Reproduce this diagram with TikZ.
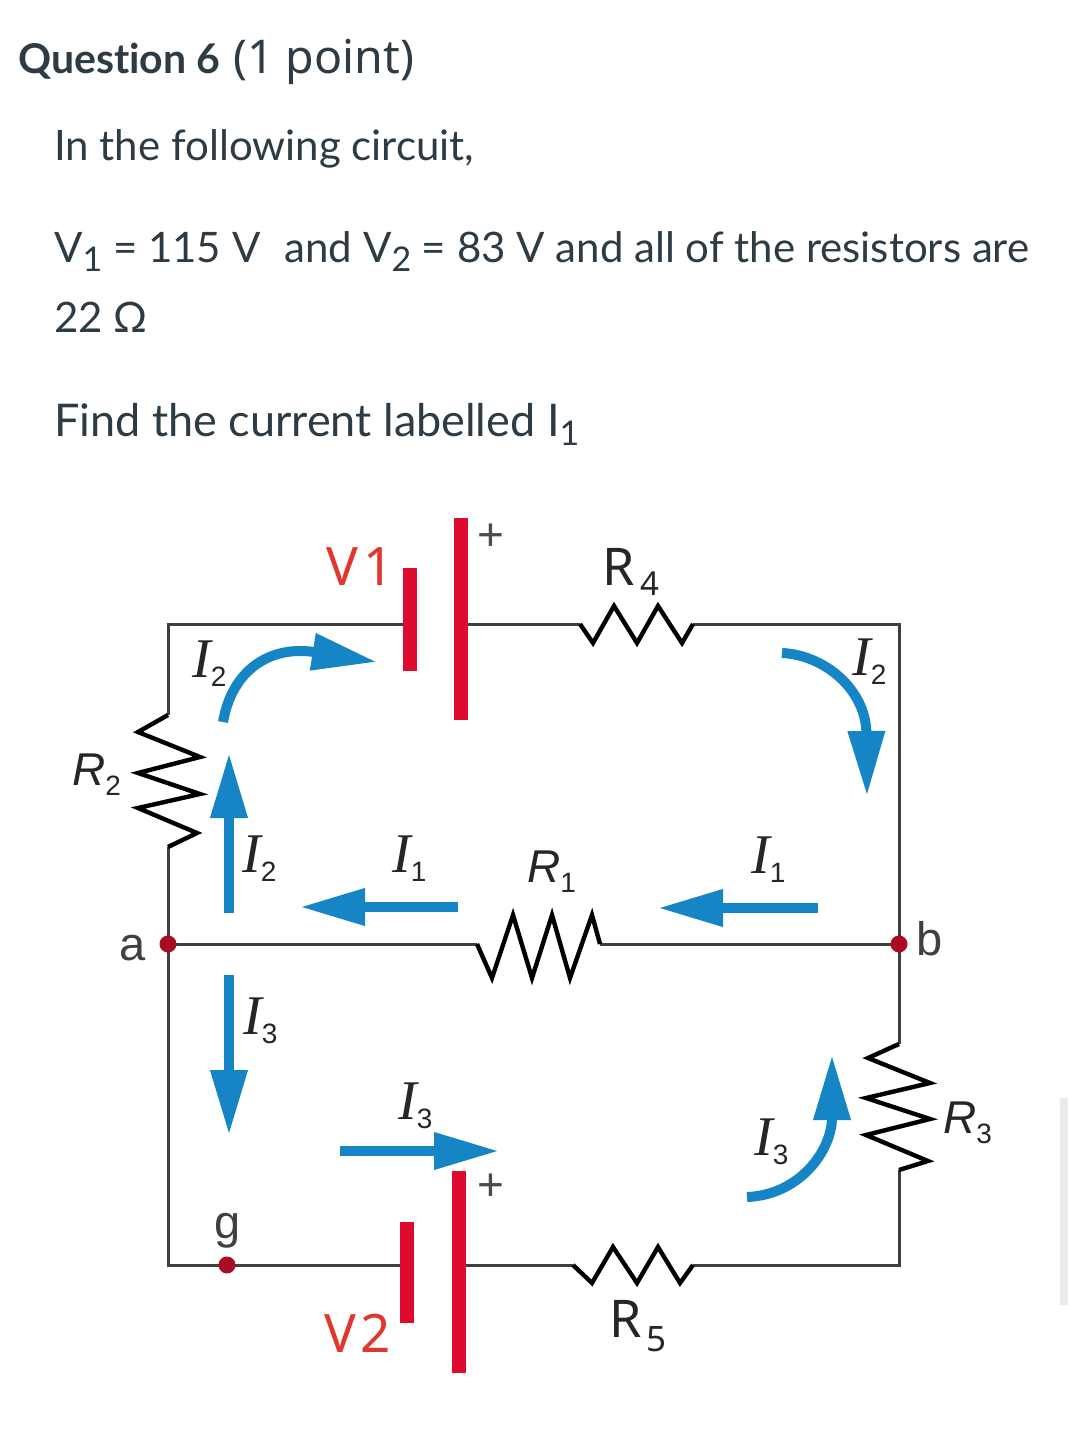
\documentclass[tikz,border=0pt]{standalone}
\usepackage{fontspec}
\setmainfont{Lato}
\newfontfamily\nsans{Noto Sans}
\newfontfamily\lserif{Liberation Serif}
\newfontfamily\lsans{Liberation Sans}
\usetikzlibrary{arrows.meta}
\definecolor{wirec}{HTML}{3F3F3F}
\definecolor{batc}{HTML}{DF0A30}
\definecolor{arrc}{HTML}{1585C6}
\definecolor{dotc}{HTML}{A80D24}
\definecolor{txtc}{HTML}{2D3B45}
\definecolor{redt}{HTML}{E2352B}
\tikzset{x=1pt,y=-1pt,
 wire/.style={draw=wirec,line width=3pt,line join=miter},
 res/.style={draw=black,line width=4.4pt,line join=miter},
 bat/.style={draw=batc,line width=14pt},
 cur/.style={draw=arrc,line width=10pt,-{Triangle[length=65pt,width=35pt]}},
 txt/.style={anchor=base west,inner sep=0pt,text=txtc},
 vlab/.style={anchor=base west,inner sep=0pt,text=redt,font=\nsans\fontsize{53}{53}\selectfont},
 rlab/.style={anchor=base west,inner sep=0pt,text=black!85,font=\nsans\fontsize{52}{52}\selectfont},
 hlab/.style={anchor=base west,inner sep=0pt,text=black!75,font=\lsans\fontsize{47}{47}\selectfont},
 plab/.style={anchor=center,inner sep=0pt,text=black!70,font=\lsans\fontsize{46}{46}\selectfont},
 ilab/.style={anchor=base west,inner sep=0pt,text=black!85,font=\lserif\itshape\fontsize{56}{56}\selectfont},
 irlab/.style={anchor=base west,inner sep=0pt,text=black!85,font=\lsans\itshape\fontsize{46}{46}\selectfont},
 dot/.style={circle,fill=dotc,inner sep=0pt,minimum size=17pt}}
\newcommand{\tsub}[1]{\raisebox{-9pt}{\fontsize{34}{34}\selectfont #1}}
\newcommand{\Isub}[1]{\raisebox{-9pt}{\upshape\lsans\fontsize{28}{28}\selectfont #1}}
\newcommand{\Rsub}[1]{\raisebox{-10pt}{\upshape\lsans\fontsize{28}{28}\selectfont #1}}
\begin{document}
\begin{tikzpicture}
\useasboundingbox (0,0) rectangle (1068,1439);
\fill[white] (0,0) rectangle (1068,1439);
\fill[black!8] (1060,1098) rectangle (1068,1305);
% text
\node[txt,font=\fontsize{41}{41}\selectfont\bfseries] (q) at (18,74) {Quest\kern0pt ion 6};
\node[txt,font=\nsans\fontsize{46.5}{46.5}\selectfont] (pt) at (233,74) {(1 point)};
\node[txt,font=\fontsize{42}{42}\selectfont] (t1) at (54,161) {In the following circuit,};
\node[txt,font=\fontsize{42}{42}\selectfont] (t2) at (54,262) {V\tsub{1} = 115 V\hspace{24pt}and V\tsub{2} = 83 V and all of the resistors are};
\node[txt,font=\fontsize{42}{42}\selectfont] (t3) at (54,332) {22 Ω};
\node[txt,font=\fontsize{45}{45}\selectfont] (t4) at (54,436) {Find the current labelled I\tsub{1}};
% junction coordinates
\coordinate (tl) at (168,624); \coordinate (tr) at (899,624);
\coordinate (bl) at (168,1265); \coordinate (br) at (899,1265);
\coordinate (v1a) at (410,624); \coordinate (v1b) at (461,624);
\coordinate (v2a) at (406,1265); \coordinate (v2b) at (458,1265);
\coordinate (r4a) at (580,624); \coordinate (r4b) at (693,624);
\coordinate (r5a) at (573,1265); \coordinate (r5b) at (693,1265);
\coordinate (r1a) at (477,944); \coordinate (r1b) at (600,944);
\coordinate (r2a) at (168,715); \coordinate (r2b) at (168,847);
\coordinate (r3a) at (899,1044); \coordinate (r3b) at (899,1170);
\coordinate (am) at (168,944); \coordinate (bm) at (899,944);
\coordinate (gm) at (227,1265);
% wires
\draw[wire] (v1a) -- (tl) -- (r2a);
\draw[wire] (r2b) -- (am) -- (r1a);
\draw[wire] (r1b) -- (bm) -- (r3a);
\draw[wire] (am) -- (bl) -- (gm) -- (v2a);
\draw[wire] (v1b) -- (r4a);
\draw[wire] (r4b) -- (tr) -- (bm);
\draw[wire] (r3b) -- (br) -- (r5b);
\draw[wire] (r5a) -- (v2b);
\node[dot] (a) at (am) {}; \node[dot] (b) at (bm) {}; \node[dot] (g) at (gm) {};
% resistors
\draw[res] (r4a) -- (593,643) -- (614,606) -- (637,643) -- (658,606) -- (682,643) -- (r4b);
\draw[res] (r5a) -- (592,1283) -- (613,1247) -- (637,1283) -- (658,1247) -- (680,1283) -- (r5b);
\draw[res] (r1a) -- (492,978) -- (513,915) -- (532,978) -- (552,915) -- (570,978) -- (592,915) -- (r1b);
\draw[res] (r2a) -- (138,732) -- (200,757) -- (138,773) -- (200,794) -- (138,808) -- (197,833) -- (r2b);
\draw[res] (r3a) -- (868,1058) -- (930,1083) -- (866,1098) -- (930,1119) -- (866,1135) -- (928,1161) -- (r3b);
% batteries
\draw[bat] (410,568) -- (410,671);
\draw[bat] (461,518) -- (461,720);
\draw[bat] (406.5,1222) -- (406.5,1323);
\draw[bat] (458.5,1171) -- (458.5,1373);
% arrows
\draw[cur] (223,722) .. controls (232,670) and (270,645) .. (377,662);
\draw[cur] (782,653) .. controls (825,655) and (866,690) .. (867,796);
\draw[cur] (229,913) -- (229,753);
\draw[cur] (458,907) -- (300,907);
\draw[cur] (818,908) -- (658,908);
\draw[cur] (229,975) -- (229,1135);
\draw[cur] (340,1151) -- (499,1151);
\draw[cur] (747,1197) .. controls (800,1195) and (832,1150) .. (832,1055);
% labels
\node[vlab] (lv1) at (326,585) {V\hspace{6pt}1};
\node[vlab] (lv2) at (324,1352) {V\hspace{5pt}2};
\node[rlab] (lr4) at (602,585) {R\hspace{6pt}\raisebox{-10pt}{\fontsize{33}{33}\selectfont 4}};
\node[rlab] (lr5) at (609,1337) {R\hspace{5pt}\raisebox{-14pt}{\fontsize{35}{35}\selectfont 5}};
\node[irlab] (lr2) at (72,785) {R\Rsub{2}};
\node[irlab] (lr3) at (943,1133) {R\Rsub{3}};
\node[irlab] (lr1) at (527,882) {R\Rsub{1}};
\node[hlab] (la) at (119,960) {a};
\node[hlab] (lb) at (916,955) {b};
\node[hlab] (lg) at (214,1238) {g};
\node[plab] (p1) at (491,537) {+};
\node[plab] (p2) at (491,1187) {+};
\node[ilab] (i2a) at (192,677) {I\Isub{2}};
\node[ilab] (i2b) at (852,675) {I\Isub{2}};
\node[ilab] (i2c) at (242,872) {I\Isub{2}};
\node[ilab] (i1a) at (392,872) {I\Isub{1}};
\node[ilab] (i1b) at (751,873) {I\Isub{1}};
\node[ilab] (i3a) at (243,1034) {I\Isub{3}};
\node[ilab] (i3b) at (398,1119) {I\Isub{3}};
\node[ilab] (i3c) at (754,1155) {I\Isub{3}};
\end{tikzpicture}
\end{document}
